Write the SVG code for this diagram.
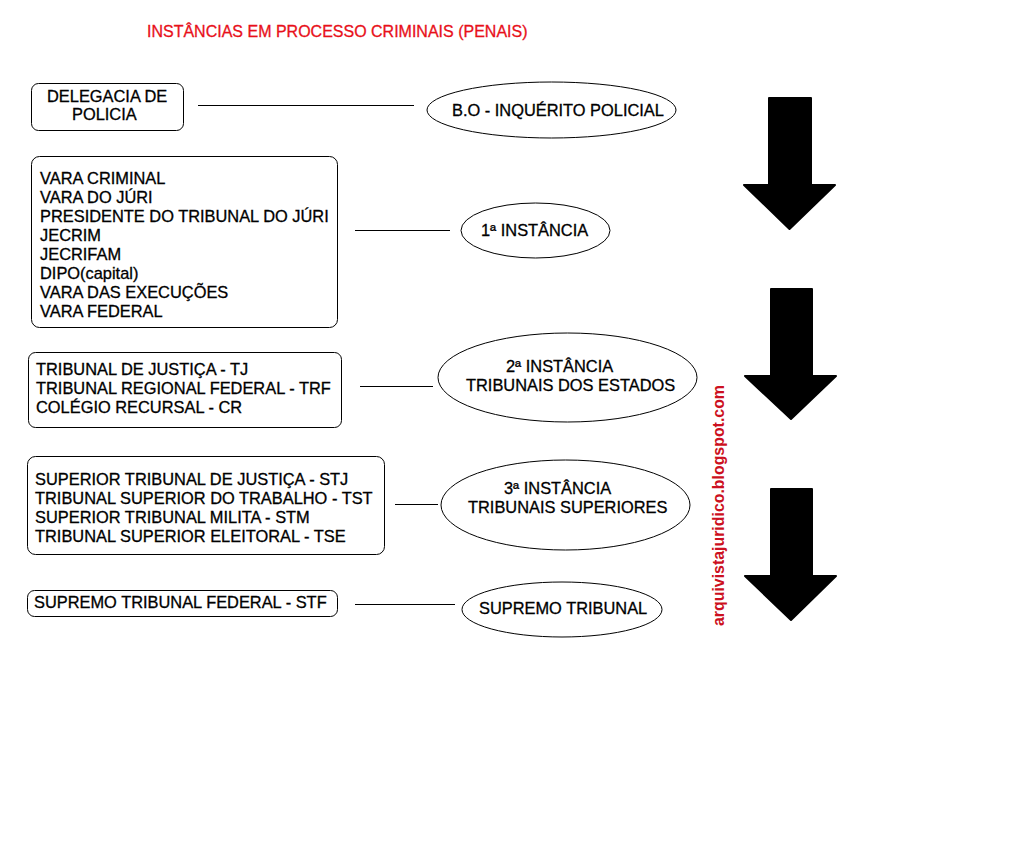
<svg xmlns="http://www.w3.org/2000/svg" width="1023" height="868" viewBox="0 0 1023 868">
<style>
text{font-family:"Liberation Sans",Arial,sans-serif;font-size:16.4px;fill:#000;stroke:#000;stroke-width:0.3}
.title{fill:#e8101a;stroke:#e8101a;font-size:16px}
.wm{fill:#cc1020;stroke:none;font-weight:bold;font-size:16px}
.box{fill:#fff;stroke:#000;stroke-width:1}
.ell{fill:#fff;stroke:#000;stroke-width:1}
.conn line{stroke:#000;stroke-width:1}
.arrow{fill:#000;stroke:#000;stroke-width:2;stroke-linejoin:round}
</style>
<rect width="1023" height="868" fill="#fff"/>
<text class="title" x="147" y="37">INSTÂNCIAS EM PROCESSO CRIMINAIS (PENAIS)</text>
<g id="conectores" class="conn">
<line x1="198" y1="105.5" x2="414" y2="105.5"/>
<line x1="355" y1="230.5" x2="450" y2="230.5"/>
<line x1="360" y1="386.5" x2="433" y2="386.5"/>
<line x1="395" y1="504.5" x2="438" y2="504.5"/>
<line x1="355" y1="604.5" x2="455" y2="604.5"/>
</g>
<g id="delegacia">
<rect class="box" x="31.5" y="83.5" width="152" height="47" rx="7"/>
<text x="47" y="102">DELEGACIA DE</text>
<text x="72" y="120">POLICIA</text>
</g>
<g id="bo">
<ellipse class="ell" cx="551.5" cy="110" rx="124.5" ry="28"/>
<text x="452" y="116">B.O - INQUÉRITO POLICIAL</text>
</g>
<g id="varas">
<rect class="box" x="31.5" y="156.5" width="306" height="171" rx="8"/>
<text x="40" y="184">VARA CRIMINAL</text>
<text x="40" y="203">VARA DO JÚRI</text>
<text x="40" y="222">PRESIDENTE DO TRIBUNAL DO JÚRI</text>
<text x="40" y="241">JECRIM</text>
<text x="40" y="260">JECRIFAM</text>
<text x="40" y="279">DIPO(capital)</text>
<text x="40" y="298">VARA DAS EXECUÇÕES</text>
<text x="40" y="317">VARA FEDERAL</text>
</g>
<g id="instancia1">
<ellipse class="ell" cx="535.5" cy="230.5" rx="74.5" ry="27.5"/>
<text x="481" y="236">1ª INSTÂNCIA</text>
</g>
<g id="tribunais">
<rect class="box" x="28.5" y="352.5" width="313" height="75" rx="7"/>
<text x="36" y="375">TRIBUNAL DE JUSTIÇA - TJ</text>
<text x="36" y="394">TRIBUNAL REGIONAL FEDERAL - TRF</text>
<text x="36" y="413">COLÉGIO RECURSAL - CR</text>
</g>
<g id="instancia2">
<ellipse class="ell" cx="567.5" cy="377.5" rx="129.5" ry="44.5"/>
<text x="506" y="372">2ª INSTÂNCIA</text>
<text x="466" y="391">TRIBUNAIS DOS ESTADOS</text>
</g>
<g id="superiores">
<rect class="box" x="27.5" y="456.5" width="357" height="98" rx="8"/>
<text x="35" y="485">SUPERIOR TRIBUNAL DE JUSTIÇA - STJ</text>
<text x="35" y="504">TRIBUNAL SUPERIOR DO TRABALHO - TST</text>
<text x="35" y="523">SUPERIOR TRIBUNAL MILITA - STM</text>
<text x="35" y="542">TRIBUNAL SUPERIOR ELEITORAL - TSE</text>
</g>
<g id="instancia3">
<ellipse class="ell" cx="565.5" cy="505" rx="124.5" ry="45"/>
<text x="504" y="494">3ª INSTÂNCIA</text>
<text x="468" y="513">TRIBUNAIS SUPERIORES</text>
</g>
<g id="stf">
<rect class="box" x="27.5" y="590.5" width="310" height="26" rx="7"/>
<text x="34" y="608">SUPREMO TRIBUNAL FEDERAL - STF</text>
</g>
<g id="supremo">
<ellipse class="ell" cx="562" cy="609.5" rx="100" ry="27.5"/>
<text x="479" y="614">SUPREMO TRIBUNAL</text>
</g>
<g id="setas">
<path class="arrow" d="M769,98 H811 V185 H835 L789.5,229 L744,185 H769 Z"/>
<path class="arrow" d="M771,289 H812 V376 H836 L791,419 L745,376 H771 Z"/>
<path class="arrow" d="M771,489 H812 V576 H836 L791,620 L745,576 H771 Z"/>
</g>
<text class="wm" transform="translate(724,626) rotate(-90)" x="0" y="0" textLength="241" lengthAdjust="spacingAndGlyphs">arquivistajuridico.blogspot.com</text>
</svg>
